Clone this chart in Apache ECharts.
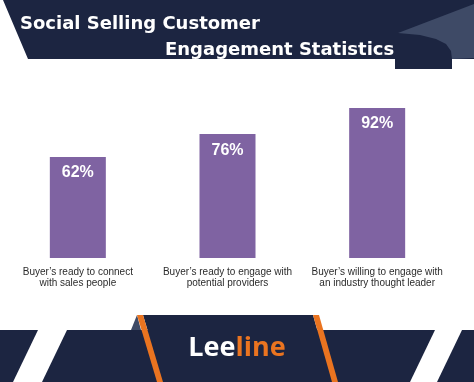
<!DOCTYPE html>
<html>
<head>
<meta charset="utf-8">
<script src="https://cdn.jsdelivr.net/npm/echarts@6/dist/echarts.min.js"></script>
<style>
html,body{margin:0;padding:0;background:#fff;}
#chart{width:474px;height:382px;}
</style>
</head>
<body>
<div id="chart"></div>
<script>
const titleLines = ["Social Selling Customer", "Engagement Statistics"];
const categories = [
  "Buyer’s ready to connect\nwith sales people",
  "Buyer’s ready to engage with\npotential providers",
  "Buyer’s willing to engage with\nan industry thought leader"
];
const values = [62, 76, 92];
const brandA = "Lee";
const brandB = "line";

const NAVY = "#1c2541";
const SLATE = "#3e4a66";
const ORANGE = "#ea7420";
const PURPLE = "#7f63a2";

const chart = echarts.init(document.getElementById('chart'), null, {renderer: 'canvas'});

function poly(points, fill, z) {
  return {type: 'polygon', shape: {points: points}, style: {fill: fill}, z: z || 0, silent: true};
}

const option = {
  backgroundColor: '#ffffff',
  animation: false,
  title: [
    {text: titleLines[0], left: 20, top: 15, padding: 0,
     textStyle: {color: '#fff', fontFamily: 'DejaVu Sans', fontWeight: 'bold', fontSize: 18}},
    {text: titleLines[1], left: 165, top: 41, padding: 0,
     textStyle: {color: '#fff', fontFamily: 'DejaVu Sans', fontWeight: 'bold', fontSize: 18}}
  ],
  grid: {left: 3, right: 22, top: 95, bottom: 124, containLabel: false},
  xAxis: {
    type: 'category',
    data: categories,
    axisLine: {show: false},
    axisTick: {show: false},
    axisLabel: {
      interval: 0, margin: 9, color: '#2b2b2b',
      fontFamily: 'Liberation Sans', fontSize: 10, lineHeight: 11
    }
  },
  yAxis: {type: 'value', min: 0, max: 100, show: false, splitLine: {show: false}},
  series: [{
    type: 'bar',
    data: values,
    barWidth: 56,
    itemStyle: {color: PURPLE},
    label: {
      show: true, position: 'insideTop', distance: 8,
      formatter: '{c}%', color: '#fff',
      fontFamily: 'Liberation Sans', fontWeight: 'bold', fontSize: 16
    }
  }],
  graphic: [
    // header
    poly([[3,0],[474,0],[474,59],[452,59],[452,69],[395,69],[395,59],[28,59]], NAVY, 0),
    poly([[398,33],[474,4],[474,58],[452,59],[451,51],[446,44],[436,39],[420,35]], SLATE, 1),
    // footer band
    poly([[0,330],[474,330],[474,382],[0,382]], NAVY, 0),
    poly([[38,330],[67,330],[42,382],[13,382]], '#ffffff', 1),
    poly([[435,330],[462,330],[437,382],[410,382]], '#ffffff', 1),
    poly([[131,330],[137,315],[141,330]], SLATE, 1),
    poly([[143,315],[313,315],[332,382],[163,382]], NAVY, 1),
    poly([[137,315],[143,315],[163,382],[157,382]], ORANGE, 2),
    poly([[313,315],[319,315],[338,382],[332,382]], ORANGE, 2),
    {
      type: 'text', left: 'center', top: 335, z: 3, silent: true,
      style: {
        text: '{a|' + brandA + '}{b|' + brandB + '}',
        rich: {
          a: {fill: '#ffffff', font: 'bold 27px "Open Sans"'},
          b: {fill: ORANGE, font: 'bold 27px "Open Sans"'}
        }
      }
    }
  ]
};
chart.setOption(option);
</script>
</body>
</html>
